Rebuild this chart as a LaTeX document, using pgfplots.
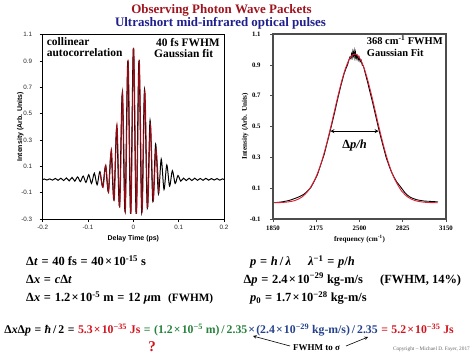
\documentclass[border=0pt]{standalone}
\usepackage{fontspec}
\setmainfont{Liberation Serif}
\setsansfont{Liberation Sans}
\usepackage{pgfplots}
\pgfplotsset{compat=1.18}
\definecolor{titlered}{RGB}{160,20,30}
\definecolor{titleblue}{RGB}{30,30,140}
\definecolor{eqred}{RGB}{210,20,30}
\definecolor{eqgreen}{RGB}{40,130,60}
\definecolor{eqblue}{RGB}{35,65,140}
\definecolor{fitred}{RGB}{150,10,20}
\definecolor{specred}{RGB}{225,30,50}
\newcommand\eq{\hspace{0.3em}=\hspace{0.3em}}
\newcommand\tm{\hspace{0.1em}×\hspace{0.1em}}
\newcommand\sps[1]{\textsuperscript{#1}}
\begin{document}
\begin{tikzpicture}
\path[use as bounding box] (0,0) rectangle (474bp,-355bp);
% titles
\node[font=\fontsize{13}{14}\selectfont\bfseries, text=titlered, inner sep=0pt, anchor=base] at (221.5bp,-13bp) {Observing Photon Wave Packets};
\node[font=\fontsize{13}{14}\selectfont\bfseries, text=titleblue, inner sep=0pt, anchor=base] at (220.5bp,-26bp) {Ultrashort mid-infrared optical pulses};

% ---------------- left axis ----------------
\begin{axis}[
  at={(42.7bp,-219bp)}, anchor=south west, scale only axis,
  width=181.3bp, height=184.3bp,
  xmin=-0.2, xmax=0.2, ymin=-0.3, ymax=1.1,
  xtick={-0.2,-0.1,0,0.1,0.2}, xticklabels={-0.2,-0.1,0,0.1,0.2},
  ytick={-0.3,-0.1,0.1,0.3,0.5,0.7,0.9,1.1},
  yticklabels={-0.3,-0.1,0.1,0.3,0.5,0.7,0.9,1.1},
  tick align=outside, tick pos=left, major tick length=3bp,
  axis line style={line width=1pt},
  tick style={black, line width=0.5pt},
  ticklabel style={font=\sffamily\fontsize{6.3}{7}\selectfont, text=black!85},
  yticklabel style={xshift=-4bp},
  xlabel={Delay Time (ps)}, ylabel={Intensity (Arb. Units)},
  label style={font=\sffamily\bfseries\fontsize{7}{8}\selectfont},
  xlabel style={at={(axis description cs:0.5,-0.108)}, anchor=center},
  ylabel style={at={(axis description cs:-0.123,0.5)}, anchor=center},
  clip=true,
]
\addplot[black, line width=1pt, smooth] coordinates {
(-0.2,0.0) (-0.1968,0.004) (-0.19065,-0.004) (-0.1845,0.005) (-0.17835,-0.005)
(-0.1722,0.008) (-0.16605,-0.006) (-0.1599,0.010) (-0.15375,-0.008) (-0.1476,0.012)
(-0.14145,-0.010) (-0.1353,0.016) (-0.12915,-0.012) (-0.123,0.020) (-0.11685,-0.016)
(-0.1107,0.026) (-0.10455,-0.022) (-0.0984,0.036) (-0.09225,-0.03) (-0.0861,0.048)
(-0.07995,-0.04) (-0.0738,0.06) (-0.06765,-0.055) (-0.0615,0.10) (-0.05535,-0.09)
(-0.0492,0.20) (-0.04305,-0.15) (-0.0369,0.39) (-0.03075,-0.20) (-0.0246,0.65)
(-0.01845,-0.24) (-0.0123,0.90) (-0.00615,-0.26) (0,1.0) (0.00615,-0.26)
(0.0123,0.90) (0.01845,-0.25) (0.0246,0.68) (0.03075,-0.22) (0.0369,0.45)
(0.04305,-0.17) (0.0492,0.27) (0.05535,-0.11) (0.0615,0.155) (0.06765,-0.075)
(0.0738,0.11) (0.07995,-0.05) (0.0861,0.067) (0.09225,-0.03) (0.0984,0.03)
(0.10455,-0.012) (0.1107,0.010) (0.11685,-0.008) (0.123,0.010) (0.12915,-0.008)
(0.1353,0.010) (0.14145,-0.006) (0.1476,0.008) (0.15375,-0.006) (0.1599,0.009)
(0.16605,-0.005) (0.1722,0.007) (0.17835,-0.004) (0.1845,0.007) (0.19065,-0.005)
(0.1968,0.005) (0.2,0.0)
};
\addplot[fitred, line width=1pt, smooth] coordinates {
(-0.0731,0.05) (-0.06695,-0.06) (-0.0608,0.11) (-0.05465,-0.10) (-0.0485,0.23)
(-0.04235,-0.16) (-0.0362,0.42) (-0.03005,-0.21) (-0.0239,0.67) (-0.01775,-0.245)
(-0.0116,0.91) (-0.00545,-0.26) (0.0007,1.0) (0.00685,-0.26) (0.013,0.91)
(0.01915,-0.245) (0.0253,0.67) (0.03145,-0.21) (0.0376,0.42) (0.04375,-0.16)
(0.0499,0.23) (0.05605,-0.10)
};
\end{axis}
% left inset text
\node[font=\fontsize{11.5}{12}\selectfont\bfseries, inner sep=0pt, anchor=base west] at (46.7bp,-45bp) {collinear};
\node[font=\fontsize{11.5}{12}\selectfont\bfseries, inner sep=0pt, anchor=base west] at (46.7bp,-56.5bp) {autocorrelation};
\node[font=\fontsize{11.5}{12}\selectfont\bfseries, inner sep=0pt, anchor=base east] at (220bp,-46bp) {40 fs FWHM};
\node[font=\fontsize{11.5}{12}\selectfont\bfseries, inner sep=0pt, anchor=base west] at (154bp,-57.5bp) {Gaussian fit};

% ---------------- right axis ----------------
\begin{axis}[
  at={(273bp,-219bp)}, anchor=south west, scale only axis,
  width=173bp, height=185bp,
  xmin=1850, xmax=3150, ymin=-0.1, ymax=1.1,
  xtick={1850,2175,2500,2825,3150}, xticklabels={1850,2175,2500,2825,3150},
  ytick={-0.1,0.1,0.3,0.5,0.7,0.9,1.1},
  yticklabels={-0.1,0.1,0.3,0.5,0.7,0.9,1.1},
  tick align=outside, tick pos=left, major tick length=3bp,
  axis line style={line width=1.1pt, black!70},
  tick style={black!70, line width=0.6pt},
  ticklabel style={font=\bfseries\fontsize{6.8}{7}\selectfont},
  yticklabel style={xshift=-6bp},
  xlabel={frequency (cm\textsuperscript{-1})}, ylabel={Intensity (Arb. Units)},
  label style={font=\bfseries\fontsize{7.2}{8}\selectfont},
  xlabel style={at={(axis description cs:0.5,-0.108)}, anchor=center},
  ylabel style={at={(axis description cs:-0.161,0.5)}, anchor=center},
]
\addplot[black, line width=0.9pt] coordinates {
(1860,0.006) (1885,0.008) (1910,0.010) (1935,0.014) (1960,0.018) (1985,0.024)
(2010,0.032) (2035,0.040) (2060,0.050) (2085,0.062) (2110,0.082) (2135,0.105)
(2160,0.145) (2185,0.19) (2210,0.255) (2235,0.32) (2260,0.405) (2285,0.49)
(2310,0.58) (2335,0.675) (2360,0.765) (2385,0.845) (2400,0.88) (2410,0.90)
(2420,0.93) (2428,0.95) (2435,0.94) (2440,0.97) (2445,0.95) (2450,0.985)
(2455,0.96) (2460,0.99) (2465,0.95) (2470,0.98) (2475,0.94) (2482,0.96)
(2490,0.93) (2497,0.95) (2505,0.92) (2512,0.93) (2520,0.90) (2530,0.89)
(2545,0.84) (2560,0.79) (2580,0.72) (2600,0.65) (2620,0.575) (2640,0.50)
(2660,0.43) (2680,0.365) (2700,0.30) (2720,0.25) (2740,0.205) (2760,0.17)
(2780,0.14) (2800,0.118) (2820,0.095) (2840,0.072) (2860,0.055) (2880,0.042)
(2900,0.034) (2930,0.025) (2960,0.020) (2990,0.016) (3020,0.015) (3050,0.013)
(3075,0.012) (3090,0.010)
};
\addplot[specred, line width=0.9pt, smooth] coordinates {
(1865,0.006) (1915,0.007) (1965,0.011) (2015,0.020) (2065,0.041) (2115,0.083)
(2165,0.157) (2190,0.209) (2215,0.272) (2240,0.346) (2265,0.430) (2290,0.519)
(2315,0.613) (2340,0.705) (2365,0.791) (2390,0.865) (2415,0.922) (2440,0.958)
(2465,0.970) (2490,0.958) (2515,0.922) (2540,0.865) (2565,0.791) (2590,0.705)
(2615,0.613) (2640,0.519) (2665,0.430) (2690,0.346) (2715,0.272) (2740,0.209)
(2765,0.157) (2815,0.083) (2865,0.041) (2915,0.020) (2965,0.011) (3015,0.007)
(3065,0.006) (3085,0.005)
};
\draw[<->, >=stealth, line width=0.8pt] (axis cs:2281,0.47) -- (axis cs:2644,0.47);
\node[font=\fontsize{12.5}{13}\selectfont\bfseries, anchor=center] at (axis cs:2463,0.375) {Δ\textit{p/h}};
\end{axis}
\node[font=\fontsize{10.5}{11}\selectfont\bfseries, inner sep=0pt, anchor=base west] at (366.7bp,-44.3bp) {368 cm\textsuperscript{-1} FWHM};
\node[font=\fontsize{10.5}{11}\selectfont\bfseries, inner sep=0pt, anchor=base west] at (366.7bp,-56.7bp) {Gaussian Fit};

% ---------------- equations ----------------
\begin{scope}[every node/.style={inner sep=0pt, anchor=base west, font=\fontsize{12.5}{13}\selectfont\bfseries}]
\node at (26bp,-265.5bp) {Δ\textit{t}\eq 40 fs\eq 40\tm 10\sps{-15} s};
\node at (26bp,-283bp) {Δ\textit{x}\eq \textit{c}Δ\textit{t}};
\node at (26bp,-301.5bp) {Δ\textit{x}\eq 1.2\tm 10\sps{-5} m\eq 12 \textit{μ}m};
\node[font=\fontsize{11.3}{12}\selectfont\bfseries] at (168bp,-301.5bp) {(FWHM)};
\node at (250bp,-265.5bp) {\textit{p}\eq \textit{h}\,/\,\textit{λ}};
\node at (308bp,-265.5bp) {\textit{λ}\sps{−1}\eq \textit{p}/\textit{h}};
\node at (243.3bp,-283bp) {Δ\textit{p}\eq 2.4\tm 10\sps{−29} kg-m/s};
\node at (380bp,-283bp) {(FWHM, 14\%)};
\node at (250bp,-301.5bp) {\textit{p}\textsubscript{0}\eq 1.7\tm 10\sps{−28} kg-m/s};
\node[font=\fontsize{11.8}{12}\selectfont\bfseries] at (4.3bp,-333.5bp) {Δ\textit{x}Δ\textit{p}\eq \textit{ħ}\,/\,2\eq\textcolor{eqred}{5.3\tm 10\sps{−35} Js}\textcolor{eqgreen}{\eq(1.2\tm 10\sps{−5} m)\,/\,2.35}\textcolor{eqblue}{\tm(2.4\tm 10\sps{−29} kg-m/s)\,/\,2.35}\textcolor{eqred}{\eq 5.2\tm 10\sps{−35} Js}};
\end{scope}
\node[font=\fontsize{15}{16}\selectfont\bfseries, text=eqred, inner sep=0pt, anchor=base] at (152bp,-351bp) {?};
\node[font=\fontsize{9}{10}\selectfont\bfseries, inner sep=0pt, anchor=base west] at (293bp,-350bp) {FWHM to σ};
\draw[->, >=stealth, line width=0.6pt] (290bp,-346bp) -- (253bp,-336bp);
\draw[->, >=stealth, line width=0.6pt] (346bp,-346bp) -- (368bp,-337bp);
\node[font=\fontsize{5.3}{6}\selectfont, text=black!60, inner sep=0pt, anchor=base east] at (470bp,-350bp) {Copyright – Michael D. Fayer, 2017};
\end{tikzpicture}
\end{document}
